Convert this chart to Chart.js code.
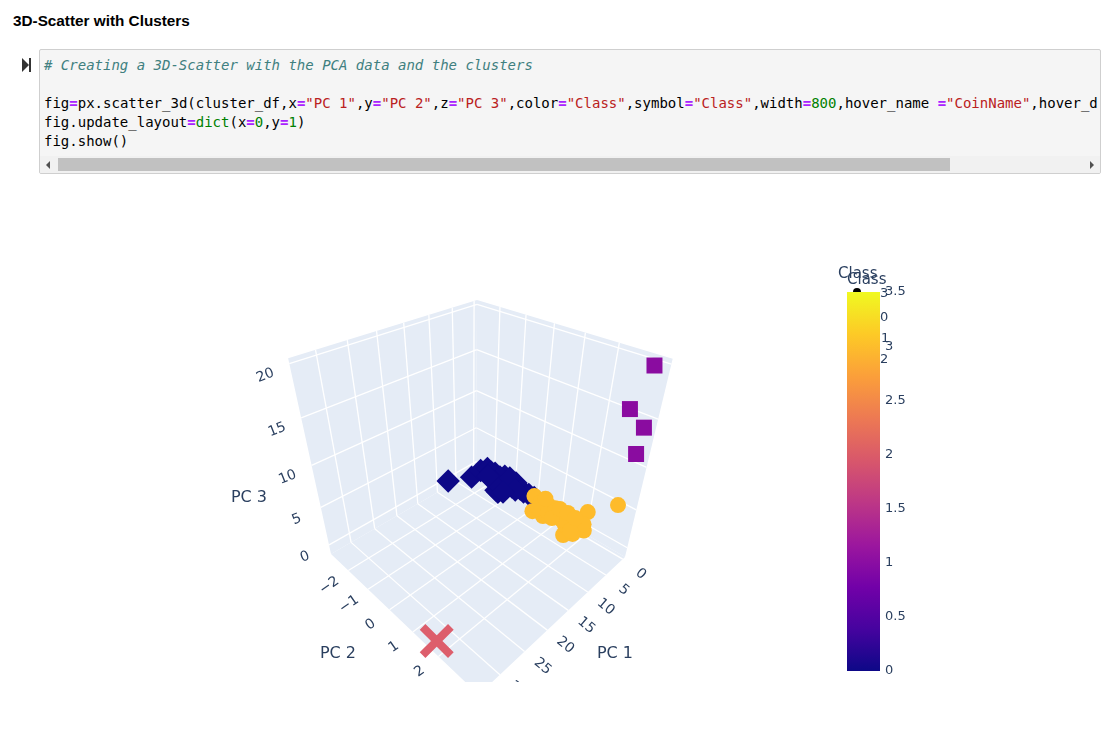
<!DOCTYPE html>
<html>
<head>
<meta charset="utf-8">
<title>3D-Scatter with Clusters</title>
<script src="https://cdn.jsdelivr.net/npm/chart.js@4"></script>
<style>
html, body { margin: 0; padding: 0; background: #fff; overflow: hidden; }
body { position: relative; width: 1116px; height: 746px; }
h4 { position: absolute; left: 13px; top: 12px; margin: 0; font: bold 15.3px/17px "Liberation Sans", Arial, sans-serif; color: #000; }
.runicon { position: absolute; left: 29px; top: 58px; width: 2px; height: 14px; background: #333; }
.runicon:after { content: ""; position: absolute; left: -7px; top: 0; border-left: 7px solid #333; border-top: 7px solid transparent; border-bottom: 7px solid transparent; }
.cell { position: absolute; left: 39px; top: 49px; width: 1060px; height: 123px; background: #f5f5f5; border: 1px solid #cfcfcf; border-radius: 2px; overflow: hidden; }
.cell pre { position: absolute; left: 4px; top: 6px; margin: 0; font: 14px/19px "DejaVu Sans Mono", monospace; color: #000; }
.cm { color: #408080; font-style: italic; }
.op { color: #aa22ff; font-weight: bold; }
.st { color: #ba2121; }
.nm { color: #008000; }
.track { position: absolute; left: 0; bottom: 0; width: 100%; height: 17px; background: #f1f1f1; }
.thumb { position: absolute; left: 18px; top: 2px; width: 892px; height: 13px; background: #c1c1c1; }
.arrow { position: absolute; top: 5px; border-top: 4px solid transparent; border-bottom: 4px solid transparent; }
.arrow.l { left: 6px; border-right: 4px solid #505050; }
.arrow.r { right: 6px; border-left: 4px solid #505050; }
canvas { position: absolute; }
#sceneChart { left: 0; top: 190px; }
#colorbarChart { left: 847px; top: 272px; }
.lbl { position: absolute; color: #2a3f5f; font-family: "DejaVu Sans", sans-serif; white-space: pre; line-height: 1; }
.dot { position: absolute; left: 853px; top: 288px; width: 8px; height: 8px; border-radius: 50%; background: #000; }
</style>
</head>
<body>
<h4>3D-Scatter with Clusters</h4>
<div class="runicon"></div>
<div class="cell">
<pre><span class="cm"># Creating a 3D-Scatter with the PCA data and the clusters</span>

fig<span class="op">=</span>px.scatter_3d(cluster_df,x<span class="op">=</span><span class="st">"PC 1"</span>,y<span class="op">=</span><span class="st">"PC 2"</span>,z<span class="op">=</span><span class="st">"PC 3"</span>,color<span class="op">=</span><span class="st">"Class"</span>,symbol<span class="op">=</span><span class="st">"Class"</span>,width<span class="op">=</span><span class="nm">800</span>,hover_name <span class="op">=</span><span class="st">"CoinName"</span>,hover_d
fig.update_layout<span class="op">=</span><span class="nm">dict</span>(x<span class="op">=</span><span class="nm">0</span>,y<span class="op">=</span><span class="nm">1</span>)
fig.show()</pre>
<div class="track"><div class="arrow l"></div><div class="thumb"></div><div class="arrow r"></div></div>
</div>
<canvas id="sceneChart" width="1116" height="492"></canvas>
<div class="dot"></div>
<canvas id="colorbarChart" width="70" height="420"></canvas>
<div class="lbl" style="left:838px;top:266px;font-size:15px">Class</div>
<div class="lbl" style="left:847px;top:272px;font-size:15px">Class</div>
<div class="lbl" style="left:880px;top:286px;font-size:13px">3</div>
<div class="lbl" style="left:880px;top:310px;font-size:13px">0</div>
<div class="lbl" style="left:881px;top:331px;font-size:13px">1</div>
<div class="lbl" style="left:880px;top:352px;font-size:13px">2</div>
<script>
// values, PC 3 is a rough guess for the clusters (depth can't be read)
const class0Pc1 = [9.10, 5.07, 2.25, 0.85, 0.93, 0.28, 2.29, 4.72, 4.91, 1.72, 1.87, 1.26, 1.54, 1.34, 1.35, 1.23, 1.18, 3.18, 0.42, 3.00, 2.56, 0.06, 2.15, 4.23];
const class0Pc2 = [-2.54, -2.13, -2.19, -2.10, -1.71, -1.36, -1.16, -1.03, -0.91, -0.98, -0.77, -0.50, -0.31, -0.11, 0.12, -1.85, -1.44, -0.92, -0.82, -1.37, -1.77, -1.16, -0.58, -0.79];
const class0Pc3 = [0.87, 0.87, 0.87, 0.87, 0.87, 0.87, 0.87, 0.87, 0.87, 0.87, 0.87, 0.87, 0.87, 0.87, 0.87, 0.87, 0.87, 0.87, 0.87, 0.87, 0.87, 0.87, 0.87, 0.87];

const class1Pc1 = [1.04, 1.04, 1.04, 1.04];
const class1Pc2 = [3.15, 2.77, 3.23, 3.18];
const class1Pc3 = [19.95, 15.55, 14.37, 11.60];

const class2Pc1 = [33.65];
const class2Pc2 = [1.89];
const class2Pc3 = [0.22];

const class3Pc1 = [4.62, 7.95, 7.68, 4.89, 5.74, 5.58, 8.98, 7.01, 5.86, 5.03, 5.22, 5.72, 6.94, 7.74, 1.67, 6.66, 6.29, 6.28, 5.78, 4.65, 4.69, 7.37, 3.84, 7.04, 4.30, 4.19, 4.37, 0.71];
const class3Pc2 = [0.56, 0.98, 1.34, 1.14, 1.62, 1.97, 2.25, 2.35, 2.55, 2.26, 0.89, 1.44, 2.04, 2.41, 2.16, 1.02, 1.33, 1.84, 2.25, 2.39, 1.37, 2.28, 0.88, 1.58, 1.50, 1.77, 2.06, 2.96];
const class3Pc3 = [3.05, 3.05, 3.05, 3.05, 3.05, 3.05, 3.05, 3.05, 3.05, 3.05, 3.05, 3.05, 3.05, 3.05, 3.05, 3.05, 3.05, 3.05, 3.05, 3.05, 3.05, 3.05, 3.05, 3.05, 3.05, 3.05, 3.05, 5.23];

const pc1Ticks = [0, 5, 10, 15, 20, 25, 30];
const pc2Ticks = [-2, -1, 0, 1, 2];
const pc3Ticks = [0, 5, 10, 15, 20];
const pc1Range = [-0.7, 34];
const pc2Range = [-2.95, 3.4];
const pc3Range = [-1.3, 20.45];

const colorbarTicks = [0, 0.5, 1, 1.5, 2, 2.5, 3, 3.5];
const colorbarRange = [0, 3.5];
const plasma = ['#0d0887', '#46039f', '#7201a8', '#9c179e', '#bd3786', '#d8576b', '#ed7953', '#fb9f3a', '#fdca26', '#f0f921'];

const TICK_COLOR = '#2a3f5f';
const WALL_COLOR = '#e5ecf6';

// perspective camera fitted to the corners of the box in the picture
function project(pc1, pc2, pc3) {
	const u = (pc1 - pc1Range[0]) / (pc1Range[1] - pc1Range[0]);
	const v = (pc2 - pc2Range[0]) / (pc2Range[1] - pc2Range[0]);
	const w = (pc3 - pc3Range[0]) / (pc3Range[1] - pc3Range[0]);
	const d = 1 - 0.1877 * u - 0.1987 * v - 0.19 * w;
	return {
		x: (476 - 207.1 * u + 24.8 * v - 89.6 * w) / d,
		y: (470 - 20 * u - 23.7 * v - 227 * w) / d
	};
}

function points(xs, ys, zs) {
	return xs.map((x, i) => project(x, ys[i], zs[i]));
}

function wall(corners) {
	return {
		data: corners.concat([corners[0]]),
		showLine: true,
		pointRadius: 0,
		borderWidth: 0,
		backgroundColor: WALL_COLOR,
		fill: 'shape',
		order: 20
	};
}

function gridLine(from, to) {
	return {
		data: [from, to],
		showLine: true,
		pointRadius: 0,
		borderColor: '#ffffff',
		borderWidth: 1.3,
		fill: false,
		order: 10
	};
}

function markers(data, style, radius, color, order, extra) {
	return Object.assign({
		data: data,
		showLine: false,
		pointStyle: style,
		pointRadius: radius,
		pointBackgroundColor: color,
		pointBorderColor: color,
		pointBorderWidth: 0,
		order: order
	}, extra);
}

const [x0, x1] = pc1Range;
const [y0, y1] = pc2Range;
const [z0, z1] = pc3Range;

const sceneDatasets = [
	wall([project(x0, y0, z0), project(x1, y0, z0), project(x1, y1, z0), project(x0, y1, z0)]),
	wall([project(x0, y0, z0), project(x1, y0, z0), project(x1, y0, z1), project(x0, y0, z1)]),
	wall([project(x0, y0, z0), project(x0, y1, z0), project(x0, y1, z1), project(x0, y0, z1)])
];

pc1Ticks.forEach(t => {
	sceneDatasets.push(gridLine(project(t, y0, z0), project(t, y1, z0)));
	sceneDatasets.push(gridLine(project(t, y0, z0), project(t, y0, z1)));
});
pc2Ticks.forEach(t => {
	sceneDatasets.push(gridLine(project(x0, t, z0), project(x1, t, z0)));
	sceneDatasets.push(gridLine(project(x0, t, z0), project(x0, t, z1)));
});
pc3Ticks.forEach(t => {
	sceneDatasets.push(gridLine(project(x0, y0, t), project(x1, y0, t)));
	sceneDatasets.push(gridLine(project(x0, y0, t), project(x0, y1, t)));
});

sceneDatasets.push(markers(points(class0Pc1, class0Pc2, class0Pc3), 'rectRot', 11.7, '#0d0887', 4));
sceneDatasets.push(markers(points(class1Pc1, class1Pc2, class1Pc3), 'rect', 11.3, '#8a0ca0', 3));
sceneDatasets.push(markers(points(class2Pc1, class2Pc2, class2Pc3), 'crossRot', 20, '#dd5e6c', 2, { pointBorderWidth: 8 }));
sceneDatasets.push(markers(points(class3Pc1, class3Pc2, class3Pc3), 'circle', 8, '#febb2b', 1));

// rotated tick labels and axis titles of the 3D box
const sceneLabels = {
	id: 'sceneLabels',
	afterDatasetsDraw(chart) {
		const { ctx, scales } = chart;
		const put = (text, px, py, deg, size) => {
			ctx.save();
			ctx.translate(scales.x.getPixelForValue(px), scales.y.getPixelForValue(py));
			ctx.rotate(deg * Math.PI / 180);
			ctx.font = size + 'px "DejaVu Sans"';
			ctx.fillStyle = TICK_COLOR;
			ctx.textAlign = 'center';
			ctx.textBaseline = 'middle';
			ctx.fillText(text, 0, 0);
			ctx.restore();
		};
		pc1Ticks.forEach(t => {
			const p = project(t, y1, z0);
			put(String(t), p.x + 18, p.y + 15, 40, 14);
		});
		pc2Ticks.forEach(t => {
			const p = project(x1, t, z0);
			put(String(t).replace('-', '\u2212'), p.x - 19, p.y + 15, -35, 14);
		});
		pc3Ticks.forEach(t => {
			const p = project(x1, y0, t);
			put(String(t), p.x - 24, p.y + 12, -22, 14);
		});
		put('PC 1', 615, 654, 0, 16);
		put('PC 2', 338, 654, 0, 16);
		put('PC 3', 249, 498, 0, 16);
	}
};

new Chart(document.getElementById('sceneChart').getContext('2d'), {
	type: 'scatter',
	data: { datasets: sceneDatasets },
	options: {
		responsive: false,
		animation: false,
		layout: { autoPadding: false },
		plugins: { legend: { display: false }, tooltip: { enabled: false } },
		scales: {
			x: { type: 'linear', display: false, min: 0, max: 1116 },
			y: { type: 'linear', display: false, reverse: true, min: 190, max: 682 }
		}
	},
	plugins: [sceneLabels]
});

function plasmaGradient(context) {
	const { ctx, chartArea } = context.chart;
	if (!chartArea) {
		return plasma[0];
	}
	const gradient = ctx.createLinearGradient(0, chartArea.bottom, 0, chartArea.top);
	plasma.forEach((c, i) => gradient.addColorStop(i / (plasma.length - 1), c));
	return gradient;
}

new Chart(document.getElementById('colorbarChart').getContext('2d'), {
	type: 'bar',
	data: {
		labels: ['Class'],
		datasets: [{
			data: [colorbarRange],
			backgroundColor: plasmaGradient,
			barPercentage: 1,
			categoryPercentage: 1,
			borderWidth: 0
		}]
	},
	options: {
		responsive: false,
		animation: false,
		layout: { padding: { top: 20, bottom: 21, left: 0, right: 0 } },
		plugins: { legend: { display: false }, tooltip: { enabled: false } },
		scales: {
			x: { display: false },
			y: {
				position: 'right',
				min: colorbarRange[0],
				max: colorbarRange[1],
				afterFit(scale) {
					scale.width = 37;
					scale.paddingTop = 0;
					scale.paddingBottom = 0;
				},
				afterBuildTicks(scale) {
					scale.ticks = colorbarTicks.map(v => ({ value: v }));
				},
				grid: { display: false },
				border: { display: false },
				ticks: {
					color: TICK_COLOR,
					padding: -3,
					font: { family: '"DejaVu Sans"', size: 13 },
					callback: v => String(v)
				}
			}
		}
	}
});
</script>
</body>
</html>
